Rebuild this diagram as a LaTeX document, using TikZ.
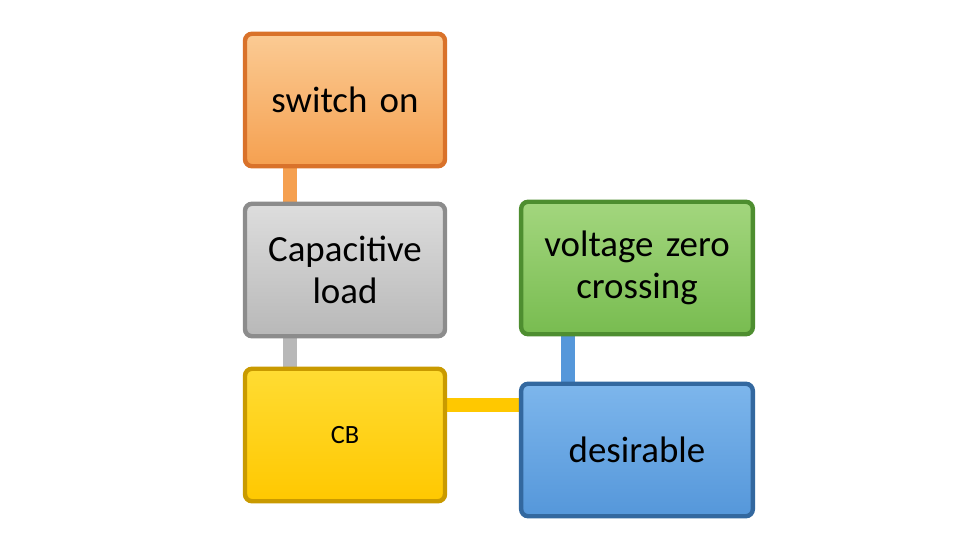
\documentclass[tikz,border=0pt]{standalone}
\usepackage{fontspec}
\setmainfont{Carlito}
\usetikzlibrary{positioning}
\definecolor{orangeA}{HTML}{FBCB94}\definecolor{orangeB}{HTML}{F5A050}\definecolor{orangeD}{HTML}{D9722A}
\definecolor{grayA}{HTML}{DDDDDD}\definecolor{grayB}{HTML}{B8B8B8}\definecolor{grayD}{HTML}{8C8C8C}
\definecolor{yellowA}{HTML}{FFDC33}\definecolor{yellowB}{HTML}{FFC800}\definecolor{yellowD}{HTML}{C99A00}
\definecolor{greenA}{HTML}{A3D67E}\definecolor{greenB}{HTML}{78BC50}\definecolor{greenD}{HTML}{4E8E30}
\definecolor{blueA}{HTML}{7DB6EC}\definecolor{blueB}{HTML}{5597DA}\definecolor{blueD}{HTML}{33689F}
\begin{document}
\begin{tikzpicture}
[x=0.02cm, y=-0.02cm,
% STYLES
box/.style={rectangle, rounded corners=4pt, line width=2.5pt, minimum width=4cm, minimum height=2.65cm, text width=3.7cm, align=center, font=\fontsize{21}{24}\selectfont},
wide/.style={box, minimum width=4.6cm, text width=4.4cm},
link/.style={line width=8pt}]
\useasboundingbox (0,0) rectangle (960,540);

% Draw the links first
\coordinate (top) at (290,150);
\coordinate (mid) at (290,320);
\coordinate (low) at (290,390);
\coordinate (cbr) at (440,405);
\coordinate (der) at (530,405);
\coordinate (grn) at (568,330);
\coordinate (blu) at (568,385);
\coordinate (cap) at (290,220);
\draw[link, orangeB] (top) -- (cap);
\draw[link, grayB] (mid) -- (low);
\draw[link, yellowB] (cbr) -- (der);
\draw[link, blueB] (grn) -- (blu);

% Draw boxes
\node[box, draw=orangeD, top color=orangeA, bottom color=orangeB] (switch) at (345,100) {switch on};
\node[box, draw=grayD, top color=grayA, bottom color=grayB] (load) at (345,270) {Capacitive load};
\node[box, draw=yellowD, top color=yellowA, bottom color=yellowB, font=\fontsize{15}{18}\selectfont] (cb) at (345,435) {CB};
\node[wide, draw=greenD, top color=greenA, bottom color=greenB] (zero) at (637,268) {voltage zero crossing};
\node[wide, draw=blueD, top color=blueA, bottom color=blueB] (desirable) at (637,450) {desirable};
\end{tikzpicture}
\end{document}
